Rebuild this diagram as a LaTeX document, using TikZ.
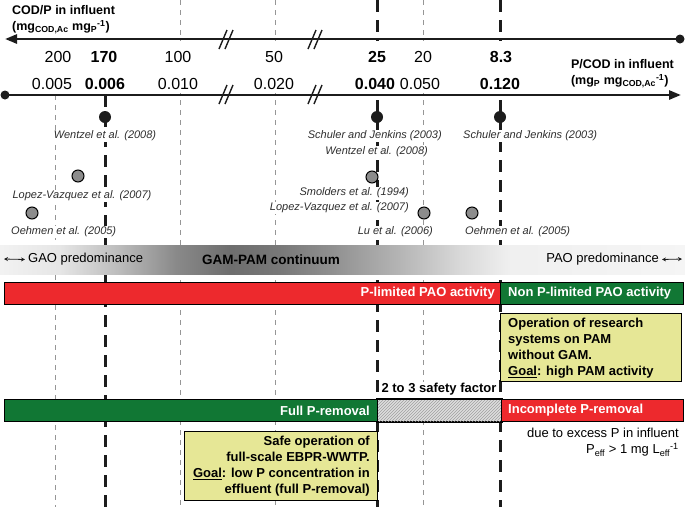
\documentclass[tikz,border=0pt]{standalone}
\usepackage{fontspec}
\setmainfont{Liberation Sans}
\usetikzlibrary{arrows.meta,patterns}
\definecolor{pred}{RGB}{237,41,45}
\definecolor{pgreen}{RGB}{17,119,52}
\definecolor{pyellow}{RGB}{230,231,150}
\definecolor{axisc}{RGB}{28,28,28}
\definecolor{thinc}{RGB}{150,150,150}
\definecolor{dotgray}{RGB}{140,140,140}
\definecolor{hatchbg}{RGB}{222,222,222}
\pgfdeclarehorizontalshading{gampam}{100bp}{%
 color(0bp)=(white!95!black);
 color(25bp)=(white!95!black);
 color(29.4bp)=(white!90!black);
 color(33.8bp)=(white!73!black);
 color(37.8bp)=(white!54!black);
 color(41.8bp)=(white!43!black);
 color(45.4bp)=(white!47!black);
 color(49.1bp)=(white!56!black);
 color(54.2bp)=(white!71!black);
 color(58.6bp)=(white!85!black);
 color(62.2bp)=(white!94!black);
 color(75bp)=(white!96!black);
 color(100bp)=(white!96!black)}
\tikzset{
  thickdash/.style={line width=3pt, dash pattern=on 12pt off 8pt, axisc},
  thindash/.style={line width=0.9pt, dash pattern=on 5pt off 5pt, thinc},
  axisline/.style={line width=2.6pt, axisc},
  numlab/.style={font=\fontsize{16}{19}\selectfont, inner sep=0pt, anchor=base},
  numbold/.style={numlab, font=\fontsize{16}{19}\selectfont\bfseries},
  axtitle/.style={font=\fontsize{12.5}{16}\selectfont\bfseries, inner sep=1pt},
  cite/.style={font=\fontsize{11}{13}\selectfont\itshape, text=black!82, fill=white, inner sep=1pt},
  bdot/.style={circle, fill=axisc, minimum size=12pt, inner sep=0pt},
  gdot/.style={circle, fill=dotgray, draw=black, line width=1pt, minimum size=12pt, inner sep=0pt},
  bar/.style={draw=black, line width=1.3pt, minimum height=22pt, inner sep=0pt, anchor=north west},
  bartext/.style={font=\fontsize{13}{15}\selectfont\bfseries, text=white, inner sep=0pt},
  ybox/.style={draw=black, line width=1.3pt, fill=pyellow, anchor=north west, inner sep=0pt},
  boxtext/.style={font=\fontsize{13}{16}\selectfont\bfseries, inner sep=0pt},
  plaintext/.style={font=\fontsize{13}{16}\selectfont, inner sep=0pt},
  breakmark/.style={line width=1.4pt, axisc},
  smallarrow/.style={line width=0.8pt, axisc, {Stealth[length=4pt,width=4pt]}-{Stealth[length=4pt,width=4pt]}},
}
\begin{document}
\begin{tikzpicture}[x=1pt,y=-1pt]
\useasboundingbox[fill=white] (0,0) rectangle (685,507);
% vertical guide lines
\draw[thindash] (55,95) -- (55,507);
\draw[thindash] (180,0) -- (180,507);
\draw[thindash] (275,0) -- (275,507);
\draw[thindash] (423,0) -- (423,507);
\draw[thickdash] (105,95) -- (105,507);
\draw[thickdash] (377,0) -- (377,507);
\draw[thickdash] (500,0) -- (500,507);
\fill[white] (0,41) rectangle (685,93);
% axes
\coordinate (a1l) at (5,39);
\coordinate (a1r) at (680,39);
\coordinate (a2l) at (5,95);
\coordinate (a2r) at (681,95);
\draw[axisline, -{Stealth[length=12pt,width=9pt,inset=0pt]}] (a1r) -- (a1l);
\fill[axisc] (a1r) circle (4.5pt);
\draw[axisline, -{Stealth[length=12pt,width=9pt,inset=0pt]}] (a2l) -- (a2r);
\fill[axisc] (a2l) circle (4.5pt);
% break marks
\foreach \bx in {222,311}{
  \draw[breakmark] (\bx-3,49) -- (\bx+5,30);
  \draw[breakmark] (\bx+3,49) -- (\bx+11,30);
  \draw[breakmark] (\bx-3,104) -- (\bx+5,85);
  \draw[breakmark] (\bx+3,104) -- (\bx+11,85);
}
% numbers
\node[numlab] (n200) at (58,62) {200};
\node[numbold] (n170) at (104,62) {170};
\node[numlab] (n100) at (178,62) {100};
\node[numlab] (n50) at (274,62) {50};
\node[numbold] (n25) at (377,62) {25};
\node[numlab] (n20) at (423,62) {20};
\node[numbold] (n83) at (501,62) {8.3};
\node[numlab] (m005) at (52,89) {0.005};
\node[numbold] (m006) at (105,89) {0.006};
\node[numlab] (m010) at (178,89) {0.010};
\node[numlab] (m020) at (274,89) {0.020};
\node[numbold] (m040) at (375,89) {0.040};
\node[numlab] (m050) at (420,89) {0.050};
\node[numbold] (m120) at (500,89) {0.120};
% axis titles
\node[axtitle, anchor=west, align=left] (t1) at (11,20) {COD/P in influent\\(mg\textsubscript{COD,Ac} mg\textsubscript{P}\textsuperscript{-1})};
\node[axtitle, anchor=east, align=left] (t2) at (675,74) {P/COD in influent\\(mg\textsubscript{P} mg\textsubscript{COD,Ac}\textsuperscript{-1})};
% data points
\node[bdot] (d1) at (105,117) {};
\node[bdot] (d2) at (377,117) {};
\node[bdot] (d3) at (500,117) {};
\node[cite] (c1) at (105,136) {Wentzel et al. (2008)};
\node[cite, anchor=east] (c2) at (443,136) {Schuler and Jenkins (2003)};
\node[cite, anchor=east] (c3) at (429,152) {Wentzel et al. (2008)};
\node[cite, anchor=west] (c4) at (462,136) {Schuler and Jenkins (2003)};
\node[gdot] (g1) at (78,176) {};
\node[cite] (c5) at (82,196) {Lopez-Vazquez et al. (2007)};
\node[gdot] (g2) at (32,213) {};
\node[cite, anchor=west] (c6) at (10,232) {Oehmen et al. (2005)};
\node[gdot] (g3) at (372,177) {};
\node[cite, anchor=east] (c7) at (410,193) {Smolders et al. (1994)};
\node[cite, anchor=east] (c8) at (410,208) {Lopez-Vazquez et al. (2007)};
\node[gdot] (g4) at (424,213) {};
\node[cite, anchor=east] (c9) at (434,232) {Lu et al. (2006)};
\node[gdot] (g5) at (472,213) {};
\node[cite, anchor=west] (c10) at (464,232) {Oehmen et al. (2005)};
% GAM-PAM band
\shade[shading=gampam] (0,245) rectangle (685,274);
\node[plaintext, anchor=west] (gao) at (28,259.5) {GAO predominance};
\coordinate (gaoa) at (4,259);
\draw[smallarrow] (gaoa) -- ([xshift=-3pt]gao.west);
\node[plaintext, anchor=east] (pao) at (659,259.5) {PAO predominance};
\coordinate (paoa) at (682,259);
\draw[smallarrow] ([xshift=3pt]pao.east) -- (paoa);
\node[font=\fontsize{13.5}{16}\selectfont\bfseries, inner sep=0pt] (cont) at (271,259.5) {GAM-PAM continuum};
% PAO activity bar
\node[bar, fill=pred, minimum width=496pt] (plim) at (4,282) {};
\node[bar, fill=pgreen, minimum width=183pt] (nplim) at (500,282) {};
\node[bartext, anchor=east] (plimt) at (495,293.5) {P-limited PAO activity};
\node[bartext, anchor=west] (nplimt) at (508,293.5) {Non P-limited PAO activity};
% research box
\node[ybox, minimum width=181pt, minimum height=68pt] (rbox) at (500,313) {};
\node[boxtext, anchor=west, align=left] (rtext) at (508,348) {Operation of research\\systems on PAM\\without GAM.\\\underline{Goal}: high PAM activity};
% safety factor
\node[font=\fontsize{13}{15}\selectfont\bfseries, fill=white, inner sep=1pt] (sf) at (439,389) {2 to 3 safety factor};
% P-removal bar
\node[bar, fill=hatchbg, minimum width=124pt] (hat) at (377,399) {};
\fill[pattern=north east lines, pattern color=gray!75] (hat.south west) rectangle (hat.north east);
\draw[line width=1.3pt] (hat.south west) rectangle (hat.north east);
\node[bar, fill=pgreen, minimum width=373pt] (full) at (4,399) {};
\node[bar, fill=pred, minimum width=182pt] (inc) at (501,399) {};
\node[bartext, anchor=east] (fullt) at (370,410.5) {Full P-removal};
\node[bartext, anchor=west] (inct) at (508,410.5) {Incomplete P-removal};
\node[plaintext, anchor=east] (exc) at (679,433) {due to excess P in influent};
\node[plaintext, anchor=east] (peff) at (679,450) {P\textsubscript{eff} > 1 mg L\textsubscript{eff}\textsuperscript{-1}};
% full-scale box
\node[ybox, minimum width=193pt, minimum height=69pt] (fbox) at (184,431) {};
\node[boxtext, anchor=east, align=right] (ftext) at (370,466.5) {Safe operation of\\full-scale EBPR-WWTP.\\\underline{Goal}: low P concentration in\\effluent (full P-removal)};
\end{tikzpicture}
\end{document}
